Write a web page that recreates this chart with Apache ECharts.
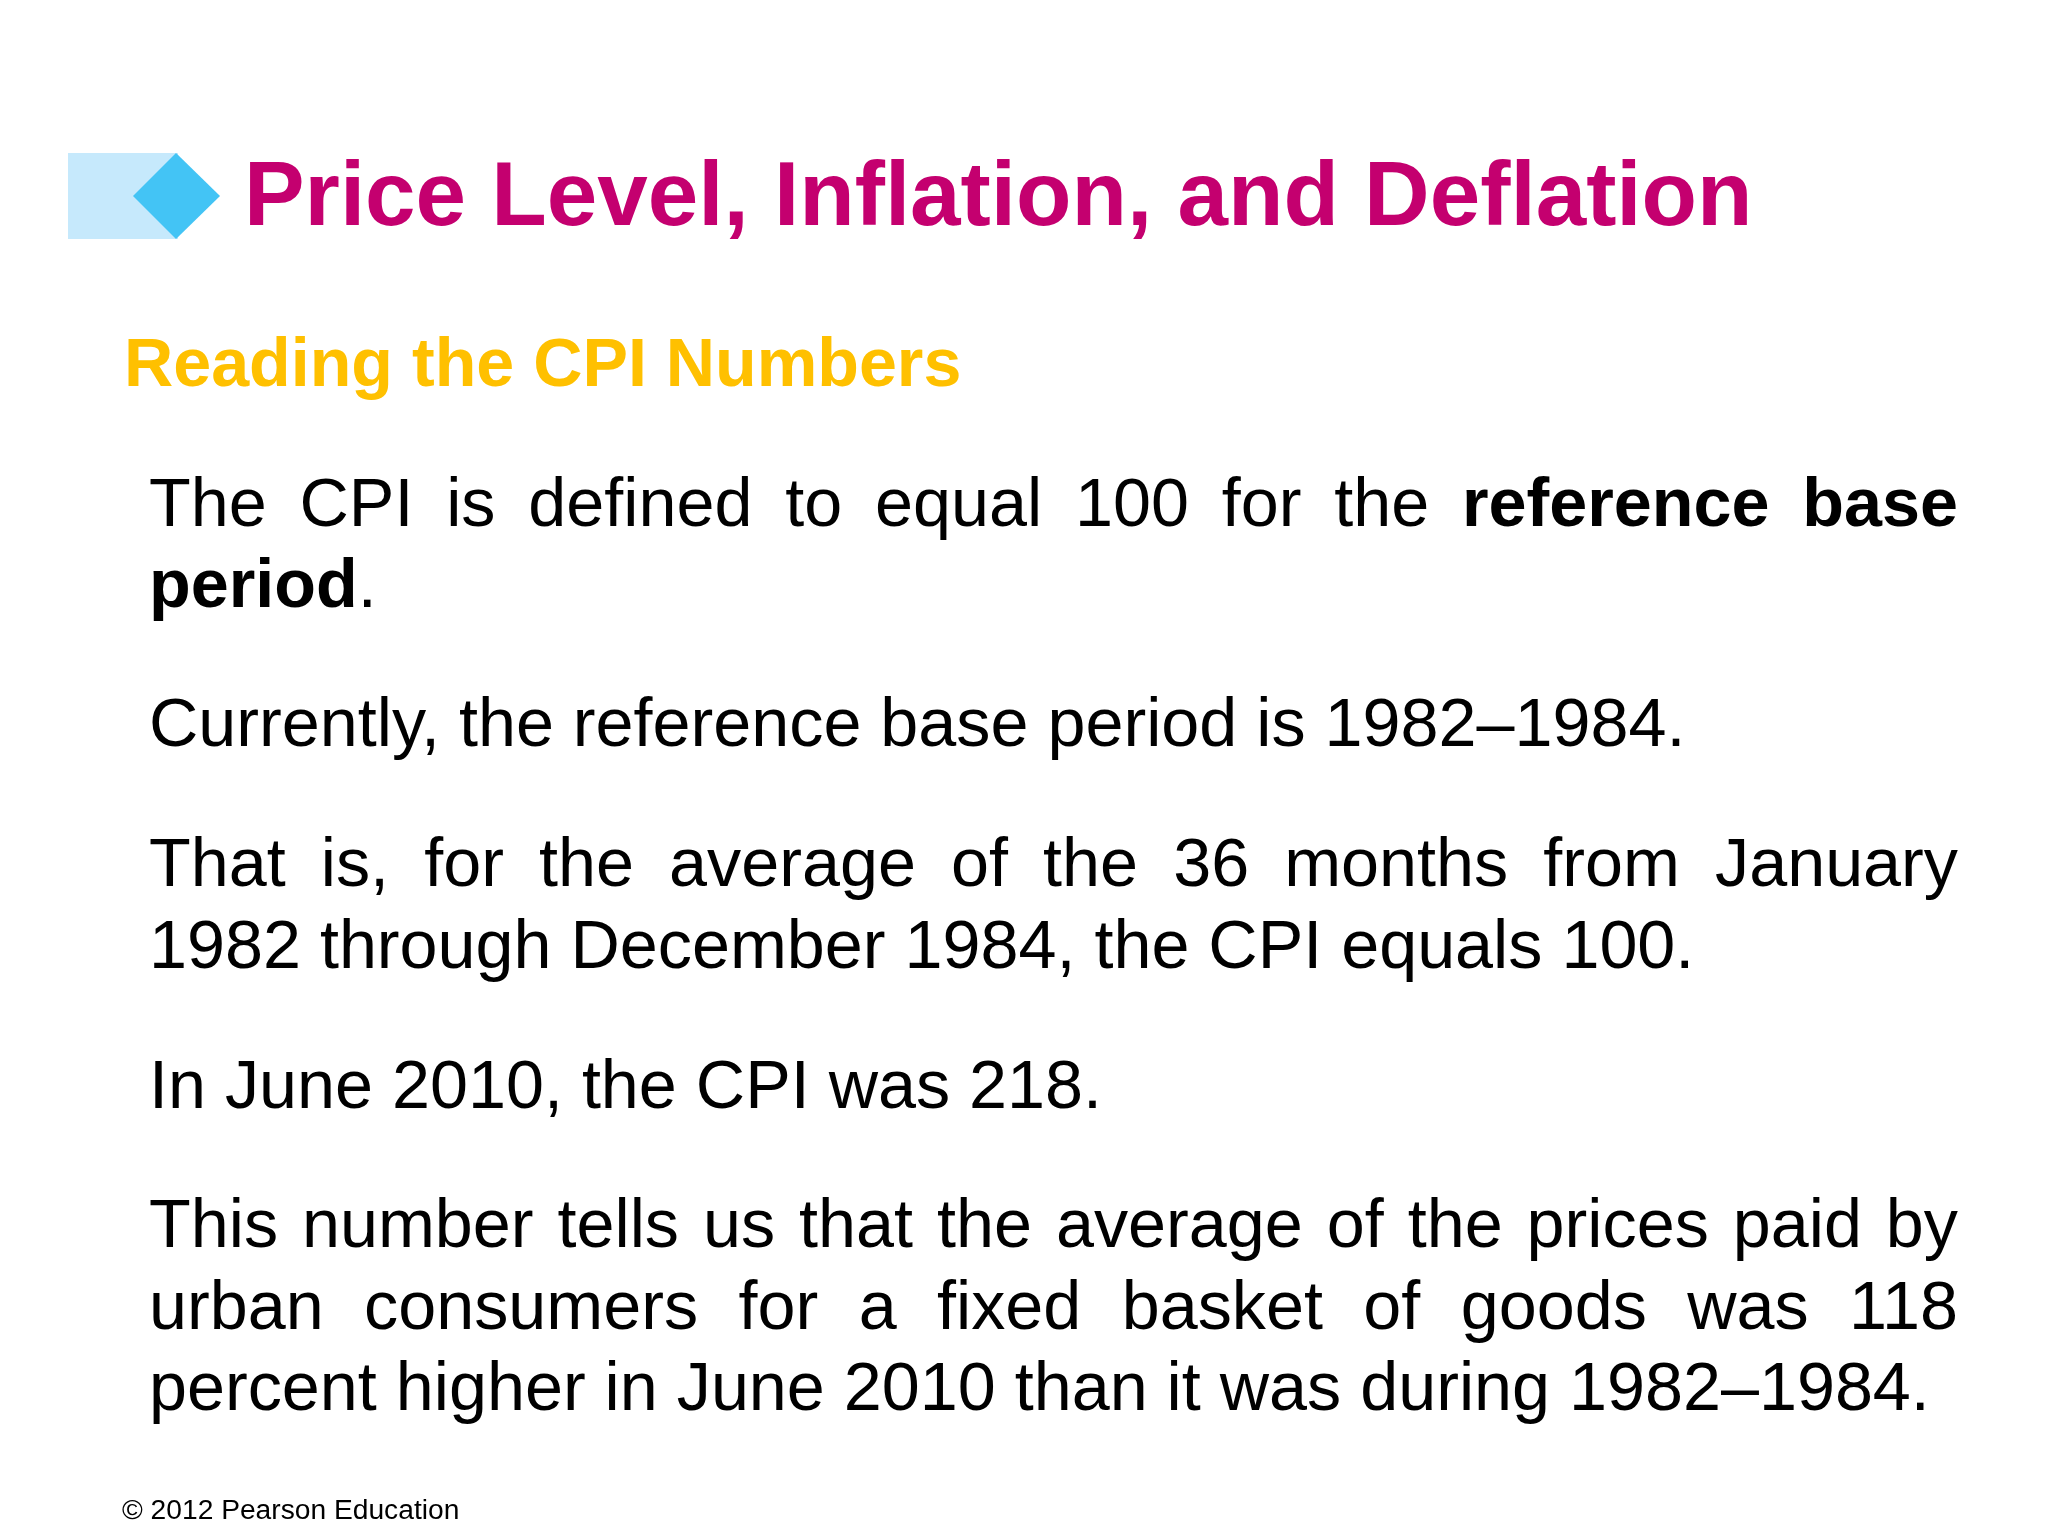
<!DOCTYPE html>
<html>
<head>
<meta charset="utf-8">
<style>
  html, body { margin: 0; padding: 0; background: #fff; }
  #chart { width: 2048px; height: 1536px; }
</style>
<script src="https://cdn.jsdelivr.net/npm/echarts@6/dist/echarts.min.js"></script>
</head>
<body>
<div id="chart"></div>
<script>
const titleText = 'Price Level, Inflation, and Deflation'
const subtitleText = 'Reading the CPI Numbers'
const footerText = '© 2012 Pearson Education'

// each line is a list of [text, bold] runs
const bodyLines = [
  [['The CPI is defined to equal 100 for the ', 0], ['reference base', 1]],
  [['period', 1], ['.', 0]],
  [['Currently, the reference base period is 1982–1984.', 0]],
  [['That is, for the average of the 36 months from January', 0]],
  [['1982 through December 1984, the CPI equals 100.', 0]],
  [['In June 2010, the CPI was 218.', 0]],
  [['This number tells us that the average of the prices paid by', 0]],
  [['urban consumers for a fixed basket of goods was 118', 0]],
  [['percent higher in June 2010 than it was during 1982–1984.', 0]]
]
const justified = [1, 0, 0, 1, 0, 0, 1, 1, 0]
const baselines = [528, 609, 748, 888, 970, 1110, 1249, 1331, 1412]

const FONT = '"Liberation Sans", Arial, sans-serif'
const BODY_SIZE = 68.3
const BODY_LEFT = 149
const BODY_RIGHT = 1958

const ctx = document.createElement('canvas').getContext('2d')
function measure(text, bold) {
  ctx.font = (bold ? 'bold ' : '') + BODY_SIZE + 'px ' + FONT
  return ctx.measureText(text).width
}

// text drawn with its baseline at y (middle align, so shift by about a third of the size)
function label(text, x, y, size, color, bold) {
  return {
    type: 'text',
    x: x,
    y: y - size * 0.3,
    silent: true,
    style: {
      text: text,
      fill: color,
      font: (bold ? 'bold ' : '') + size + 'px ' + FONT,
      textAlign: 'left',
      textVerticalAlign: 'middle'
    }
  }
}

function bodyElements() {
  const out = []
  bodyLines.forEach((runs, i) => {
    let x = BODY_LEFT
    if (!justified[i]) {
      runs.forEach(([t, b]) => {
        out.push(label(t, x, baselines[i], BODY_SIZE, '#000', b))
        x += measure(t, b)
      })
      return
    }
    // justified line: stretch the gaps between words out to the right margin
    const words = []
    runs.forEach(([t, b]) => t.trim().split(' ').forEach(w => words.push([w, b])))
    const total = words.reduce((s, [w, b]) => s + measure(w, b), 0)
    const gap = (BODY_RIGHT - BODY_LEFT - total) / (words.length - 1)
    words.forEach(([w, b]) => {
      out.push(label(w, x, baselines[i], BODY_SIZE, '#000', b))
      x += measure(w, b) + gap
    })
  })
  return out
}

const chart = echarts.init(document.getElementById('chart'))
chart.setOption({
  backgroundColor: '#fff',
  animation: false,
  graphic: [
    { type: 'rect', silent: true, shape: { x: 68, y: 153, width: 110, height: 86 }, style: { fill: '#C6E9FC' } },
    { type: 'polygon', silent: true, shape: { points: [[176, 153], [220, 196], [176, 239], [133, 196]] }, style: { fill: '#43C4F5' } },
    label(titleText, 244, 227, 90.8, '#C4006F', true),
    label(subtitleText, 124, 388, 68.2, '#FFC000', true),
    ...bodyElements(),
    label(footerText, 122, 1520, 28.2, '#000', false)
  ]
})
</script>
</body>
</html>
